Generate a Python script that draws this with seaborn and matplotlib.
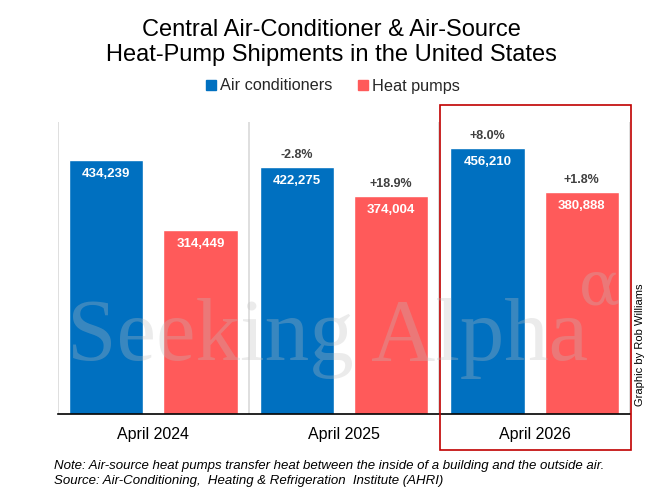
import pandas as pd
import matplotlib
matplotlib.use("Agg")
import matplotlib.pyplot as plt
import matplotlib.patches as mpatches
import seaborn as sns

# DATA
periods = ["April 2024", "April 2025", "April 2026"]
series_names = ["Air conditioners", "Heat pumps"]
ac_units = [434239, 422275, 456210]
hp_units = [314449, 374004, 380888]
ac_change = ["", "-2.8%", "+8.0%"]
hp_change = ["", "+18.9%", "+1.8%"]
title_lines = ["Central Air-Conditioner & Air-Source",
               "Heat-Pump Shipments in the United States"]

colors = {"Air conditioners": "#0070C0", "Heat pumps": "#FF5A5A"}

df = pd.DataFrame({
    "Period": periods * 2,
    "Series": [series_names[0]] * 3 + [series_names[1]] * 3,
    "Units": ac_units + hp_units,
})

sns.set_style("white")
plt.rcParams["font.family"] = ["Liberation Sans", "DejaVu Sans"]

fig = plt.figure(figsize=(6.66, 4.99), dpi=100)
ax = fig.add_axes([58 / 666, 85 / 499, 572 / 666, 292 / 499])

sns.barplot(data=df, x="Period", y="Units", hue="Series", order=periods,
            hue_order=series_names, palette=colors, width=0.99, gap=0.21,
            errorbar=None, saturation=1, legend=False, ax=ax, zorder=2)

ax.set_ylim(0, 500000)
ax.set_xlim(-0.5, len(periods) - 0.5)
ax.set_xlabel("")
ax.set_ylabel("")
ax.set_yticks([])

# category separators
for b in [-0.5, 0.5, 1.5, 2.5]:
    ax.axvline(b, color="#D9D9D9", lw=1.2, zorder=1)

for s in ["top", "right", "left"]:
    ax.spines[s].set_visible(False)
ax.spines["bottom"].set_color("black")
ax.spines["bottom"].set_linewidth(1.2)
ax.set_xticks([-0.5, 0.5, 1.5, 2.5], minor=True)
ax.tick_params(axis="x", which="minor", length=5, width=1.2, color="black", direction="out")
ax.tick_params(axis="x", which="major", length=0, pad=9, labelsize=11.5, labelcolor="black")

# value labels and changes
changes = [ac_change, hp_change]
for cont, chg in zip(ax.containers, changes):
    for bar, c in zip(cont, chg):
        xc = bar.get_x() + bar.get_width() / 2
        top = bar.get_height()
        ax.annotate(f"{top:,.0f}", (xc, top), xytext=(0, -14), textcoords="offset pixels",
                    ha="center", va="center", color="white", fontweight="bold",
                    fontsize=9.5, zorder=5)
        if c:
            ax.annotate(c, (xc, top), xytext=(0, 12), textcoords="offset pixels",
                        ha="center", va="center", color="#404040", fontweight="bold",
                        fontsize=9, annotation_clip=False, zorder=5)

# legend
handles = [mpatches.Patch(color=colors[n]) for n in series_names]
fig.legend(handles, series_names, loc="center", bbox_to_anchor=(0.5, 1 - 86 / 499),
           ncol=2, frameon=False, fontsize=11.7, handlelength=0.6, handleheight=0.6,
           handletextpad=0.25, columnspacing=1.6)

# title, two lines
for line, base in zip(title_lines, [36, 61]):
    fig.text(0.497, 1 - base / 499, line, ha="center", va="baseline",
             fontsize=17, color="black")

# watermark
fig.text(67 / 666, 1 - 360 / 499, "Seeking Alpha", family="Liberation Serif",
         fontsize=64, color="#BEBEBE", alpha=0.3, ha="left", va="baseline", zorder=10)
fig.text(600 / 666, 1 - 288 / 499, "\u03b1", family="DejaVu Serif",
         fontsize=44, color="#BEBEBE", alpha=0.3, ha="center", va="center", zorder=10)

# highlight box
fig.patches.append(mpatches.Rectangle((440 / 666, 1 - 450 / 499), 191 / 666, 345 / 499,
                                      transform=fig.transFigure, fill=False,
                                      edgecolor="#C00000", lw=1.2, zorder=3))

fig.text(640 / 666, 1 - 345 / 499, "Graphic by Rob Williams", rotation=90,
         ha="center", va="center", fontsize=8, color="black")

fig.text(54 / 666, 1 - 466 / 499,
         "Note: Air-source heat pumps transfer heat between the inside of a building and the outside air.",
         ha="left", va="center", fontsize=9.5, style="italic", color="black")
fig.text(54 / 666, 1 - 481 / 499,
         "Source: Air-Conditioning,  Heating & Refrigeration  Institute (AHRI)",
         ha="left", va="center", fontsize=9.5, style="italic", color="black")

fig.savefig("out.png", dpi=100)
